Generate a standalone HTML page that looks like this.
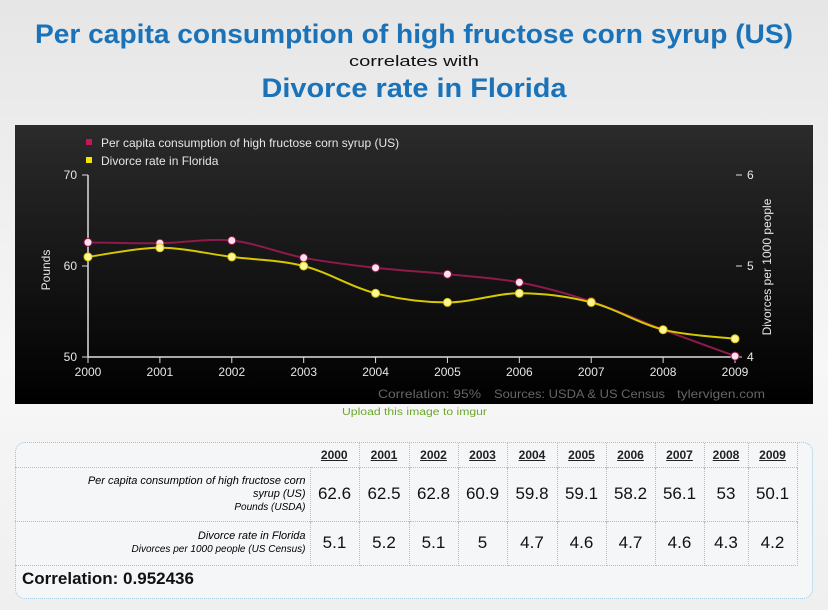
<!DOCTYPE html>
<html><head><meta charset="utf-8">
<style>
body{margin:0;width:828px;height:610px;overflow:hidden;background:linear-gradient(#e6e6e6,#f7f7f7 60%,#efefef);font-family:"Liberation Sans","DejaVu Sans",sans-serif;position:relative}
.abs{position:absolute}
table{border-collapse:collapse;table-layout:fixed}
td{padding:0;box-sizing:border-box}
</style></head><body>
<svg class="abs" style="left:0;top:0" width="828" height="440">
<defs><linearGradient id="bg" x1="0" y1="0" x2="0" y2="1"><stop offset="0" stop-color="#2b2b2b"/><stop offset="1" stop-color="#000"/></linearGradient></defs>
<text x="414" y="43" text-anchor="middle" font-size="27" font-weight="bold" fill="#1a72b8" textLength="758" lengthAdjust="spacingAndGlyphs">Per capita consumption of high fructose corn syrup (US)</text>
<text x="414" y="66" text-anchor="middle" font-size="15" fill="#111" textLength="130" lengthAdjust="spacingAndGlyphs">correlates with</text>
<text x="414" y="97" text-anchor="middle" font-size="27" font-weight="bold" fill="#1a72b8" textLength="305" lengthAdjust="spacingAndGlyphs">Divorce rate in Florida</text>
<rect x="15" y="125" width="798" height="279" fill="url(#bg)"/>
<g id="plot"></g>
<rect x="86" y="139" width="6" height="6" fill="#c2185b"/>
<text x="101" y="147" font-size="12" fill="#e6e6e6">Per capita consumption of high fructose corn syrup (US)</text>
<rect x="86" y="157" width="6" height="6" fill="#f2e600"/>
<text x="101" y="165" font-size="12" fill="#e6e6e6">Divorce rate in Florida</text>
<text transform="translate(50,270) rotate(-90)" text-anchor="middle" font-size="12" fill="#e6e6e6">Pounds</text>
<text transform="translate(771,267) rotate(-90)" text-anchor="middle" font-size="12" fill="#e6e6e6">Divorces per 1000 people</text>
<text x="378" y="398" font-size="12" fill="#666" textLength="103" lengthAdjust="spacingAndGlyphs">Correlation: 95%</text>
<text x="494" y="398" font-size="12" fill="#666" textLength="171" lengthAdjust="spacingAndGlyphs">Sources: USDA &amp; US Census</text>
<text x="677" y="398" font-size="12" fill="#666" textLength="88" lengthAdjust="spacingAndGlyphs">tylervigen.com</text>
<text x="342" y="415" font-size="10" fill="#6aa82a" textLength="145" lengthAdjust="spacingAndGlyphs">Upload this image to imgur</text>
</svg>

<div class="abs" style="left:15px;top:442px;width:796px;height:155px;border:1px dotted #9cc6e0;border-radius:10px;background:#f4f6f7"></div>
<table class="abs" style="left:15px;top:443px;width:782px">
<colgroup id="cg"><col style="width:295px"></colgroup>
<tr style="height:24px" id="hdr"><td></td></tr>
<tr style="height:54px" id="r1"><td style="text-align:right;font-style:italic;font-size:11px;line-height:13px;padding-right:4px;border-top:1px dotted #9cc6e0;border-right:1px dotted #9cc6e0">Per capita consumption of high fructose corn<br>syrup (US)<br><span style="font-size:10px">Pounds (USDA)</span></td></tr>
<tr style="height:44px" id="r2"><td style="text-align:right;font-style:italic;font-size:11px;line-height:13px;padding-right:4px;border-top:1px dotted #9cc6e0;border-bottom:1px dotted #9cc6e0;border-right:1px dotted #9cc6e0">Divorce rate in Florida<br><span style="font-size:10px">Divorces per 1000 people (US Census)</span></td></tr>
</table>
<div class="abs" style="left:22px;top:569px;font-size:17px;font-weight:bold;color:#111">Correlation: 0.952436</div>

<script>
const years=[2000,2001,2002,2003,2004,2005,2006,2007,2008,2009];
const hfcs=[62.6,62.5,62.8,60.9,59.8,59.1,58.2,56.1,53,50.1];
const divorce=[5.1,5.2,5.1,5,4.7,4.6,4.7,4.6,4.3,4.2];
const leftTicks=[50,60,70];
const rightTicks=[4,5,6];
const colW=[49,50,49,49,50,49,49,49,44,49];

const NS='http://www.w3.org/2000/svg';
const g=document.getElementById('plot');
const X=i=>88+i*(735-88)/(years.length-1);
const YL=v=>357-(v-50)*(357-175)/20;
const YR=v=>357-(v-4)*(357-175)/2;
function mk(tag,at,parent){const e=document.createElementNS(NS,tag);for(const k in at)e.setAttribute(k,at[k]);(parent||g).appendChild(e);return e;}
let e;
e=mk('line',{x1:88,y1:175,x2:88,y2:357,stroke:'#ddd','stroke-width':1.5});


e=mk('line',{x1:88,y1:357,x2:735,y2:357,stroke:'#ddd','stroke-width':1.5});


leftTicks.forEach(v=>{
  mk('line',{x1:82,x2:88,y1:YL(v),y2:YL(v),stroke:'#ddd'});
  e=mk('text',{x:77,y:YL(v)+4,'text-anchor':'end','font-size':12,fill:'#e6e6e6'});e.textContent=v;
  
  
});
rightTicks.forEach(v=>{
  mk('line',{x1:736,x2:742,y1:YR(v),y2:YR(v),stroke:'#ddd'});
  e=mk('text',{x:747,y:YR(v)+4,'font-size':12,fill:'#e6e6e6'});e.textContent=v;
  
  
});
years.forEach((y,i)=>{
  mk('line',{x1:X(i),x2:X(i),y1:357,y2:363,stroke:'#ddd'});
  e=mk('text',{x:X(i),y:376,'text-anchor':'middle','font-size':12,fill:'#e6e6e6'});e.textContent=y;
  
  
});
function smooth(pts){
  let d='M'+pts[0][0]+','+pts[0][1];
  for(let i=0;i<pts.length-1;i++){
    const p0=pts[i-1]||pts[i],p1=pts[i],p2=pts[i+1],p3=pts[i+2]||p2;
    const c1=[p1[0]+(p2[0]-p0[0])/6,p1[1]+(p2[1]-p0[1])/6];
    const c2=[p2[0]-(p3[0]-p1[0])/6,p2[1]-(p3[1]-p1[1])/6];
    d+=` C${c1[0]},${c1[1]} ${c2[0]},${c2[1]} ${p2[0]},${p2[1]}`;
  }
  return d;
}
function series(vals,Y,col,dot,name){
  const pts=vals.map((v,i)=>[X(i),Y(v)]);
  e=mk('path',{d:smooth(pts),fill:'none',stroke:col,'stroke-width':2});
  
  
  pts.forEach(p=>{
    e=mk('circle',{cx:p[0],cy:p[1],r:4,fill:dot,stroke:col,'stroke-width':1});
    
    
  });
}
series(hfcs,YL,'#8e1a4a','#ffe0f0','hfcs');
series(divorce,YR,'#d8c800','#fff59a','divorce');

// table
const cg=document.getElementById('cg');
const hdr=document.getElementById('hdr'),r1=document.getElementById('r1'),r2=document.getElementById('r2');
const bd='1px dotted #9cc6e0';
years.forEach((y,i)=>{
  const col=document.createElement('col');col.style.width=colW[i]+'px';cg.appendChild(col);
  let c=document.createElement('td');
  c.style.cssText=`text-align:center;font-size:12px;font-weight:bold;text-decoration:underline;border-right:${bd};color:#222`;
  c.textContent=y;hdr.appendChild(c);
  
  
  c=document.createElement('td');
  c.style.cssText=`text-align:center;font-size:17px;border-top:${bd};border-right:${bd};color:#111`;
  c.textContent=hfcs[i];r1.appendChild(c);
  
  
  c=document.createElement('td');
  c.style.cssText=`text-align:center;font-size:17px;border-top:${bd};border-bottom:${bd};border-right:${bd};color:#111`;
  c.textContent=divorce[i];r2.appendChild(c);
  
  
});
</script>
</body></html>
